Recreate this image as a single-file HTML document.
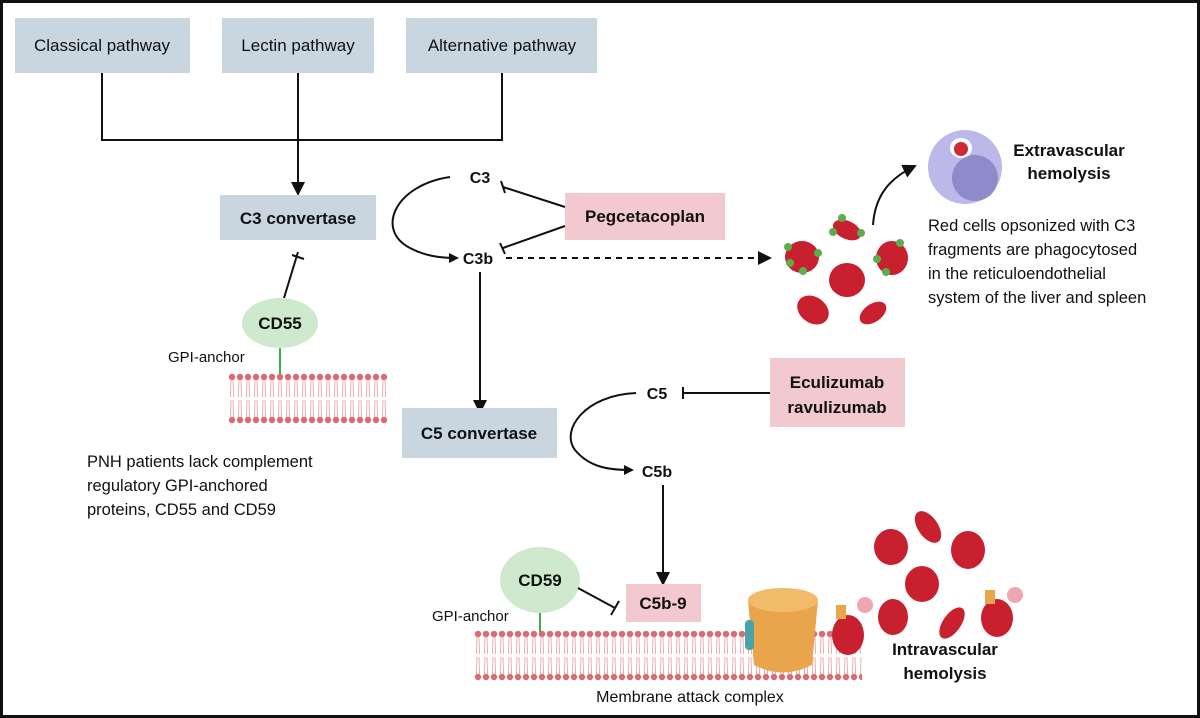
<!DOCTYPE html>
<html><head><meta charset="utf-8"><style>
html,body{margin:0;padding:0;background:#fff}
svg{display:block}
text{font-family:"Liberation Sans",sans-serif;fill:#111}
.b{font-weight:bold}
</style></head><body>
<svg width="1200" height="718" viewBox="0 0 1200 718" xmlns="http://www.w3.org/2000/svg">
<defs>
<marker id="ah" markerWidth="10" markerHeight="10" refX="8" refY="5" orient="auto" markerUnits="userSpaceOnUse"><path d="M0,0 L10,5 L0,10 Z" fill="#111"/></marker>
<marker id="ah2" markerWidth="14" markerHeight="14" refX="12" refY="7" orient="auto" markerUnits="userSpaceOnUse"><path d="M0,0 L14,7 L0,14 Z" fill="#111"/></marker>
<pattern id="mem" x="0" y="0" width="8" height="51" patternUnits="userSpaceOnUse">
<circle cx="4" cy="4" r="3.2" fill="#d96b74"/>
<circle cx="4" cy="47" r="3.2" fill="#d96b74"/>
<path d="M3,7 L2.5,24 M5,7 L5.5,24 M3,27 L2.5,44 M5,27 L5.5,44" stroke="#e79aa0" stroke-width="0.8" fill="none"/>
</pattern>
</defs>
<rect x="1.5" y="1.5" width="1197" height="715" fill="#fff" stroke="#111" stroke-width="3"/>

<rect x="15" y="18" width="175" height="55" fill="#c9d6e0"/>
<rect x="222" y="18" width="152" height="55" fill="#c9d6e0"/>
<rect x="406" y="18" width="191" height="55" fill="#c9d6e0"/>
<text x="102" y="51" font-size="17" text-anchor="middle">Classical pathway</text>
<text x="298" y="51" font-size="17" text-anchor="middle">Lectin pathway</text>
<text x="502" y="51" font-size="17" text-anchor="middle">Alternative pathway</text>
<path d="M102,73 V140 H502 V73 M298,73 V140" stroke="#111" stroke-width="2" fill="none"/>
<path d="M298,140 V194" stroke="#111" stroke-width="2" marker-end="url(#ah2)"/>

<rect x="220" y="195" width="156" height="45" fill="#c9d6e0"/>
<text x="298" y="224" font-size="17" class="b" text-anchor="middle">C3 convertase</text>
<path d="M284,298 L298,252 M292,255 L304,259" stroke="#111" stroke-width="2" fill="none"/>

<ellipse cx="280" cy="323" rx="38" ry="25" fill="#cfe9cf"/>
<text x="280" y="329" font-size="17" class="b" text-anchor="middle">CD55</text>
<text x="168" y="362" font-size="15">GPI-anchor</text>
<line x1="280" y1="348" x2="280" y2="376" stroke="#3bb04a" stroke-width="2"/>
<g transform="translate(228,373)"><rect x="0" y="0" width="160" height="51" fill="url(#mem)"/></g>
<text x="87" y="467" font-size="16.5">PNH patients lack complement</text>
<text x="87" y="491" font-size="16.5">regulatory GPI-anchored</text>
<text x="87" y="515" font-size="16.5">proteins, CD55 and CD59</text>

<text x="480" y="183" font-size="16" class="b" text-anchor="middle">C3</text>
<text x="478" y="264" font-size="16" class="b" text-anchor="middle">C3b</text>
<path d="M450,177 C395,185 375,230 410,248 C425,256 440,258 457,258" stroke="#111" stroke-width="2" fill="none" marker-end="url(#ah)"/>
<rect x="565" y="193" width="160" height="47" fill="#f2c9cf"/>
<text x="645" y="222" font-size="17" class="b" text-anchor="middle">Pegcetacoplan</text>
<path d="M565,207 L503,187 M501,181 L505,193 M565,226 L503,248 M500,243 L505,254" stroke="#111" stroke-width="2" fill="none"/>
<path d="M506,258 H770" stroke="#111" stroke-width="2" stroke-dasharray="6,5" fill="none" marker-end="url(#ah2)"/>
<path d="M480,272 V412" stroke="#111" stroke-width="2" marker-end="url(#ah2)"/>

<rect x="402" y="408" width="155" height="50" fill="#c9d6e0"/>
<text x="479" y="439" font-size="17" class="b" text-anchor="middle">C5 convertase</text>
<text x="657" y="399" font-size="16" class="b" text-anchor="middle">C5</text>
<text x="657" y="477" font-size="16" class="b" text-anchor="middle">C5b</text>
<path d="M636,393 C585,395 560,430 575,450 C590,468 610,470 632,470" stroke="#111" stroke-width="2" fill="none" marker-end="url(#ah)"/>
<rect x="770" y="358" width="135" height="69" fill="#f2c9cf"/>
<text x="837" y="388" font-size="17" class="b" text-anchor="middle">Eculizumab</text>
<text x="837" y="413" font-size="17" class="b" text-anchor="middle">ravulizumab</text>
<path d="M770,393 H683 M683,387 V399" stroke="#111" stroke-width="2" fill="none"/>
<path d="M663,485 V584" stroke="#111" stroke-width="2" marker-end="url(#ah2)"/>

<rect x="626" y="584" width="75" height="38" fill="#f2c9cf"/>
<text x="663" y="609" font-size="17" class="b" text-anchor="middle">C5b-9</text>
<ellipse cx="540" cy="580" rx="40" ry="33" fill="#cfe9cf"/>
<text x="540" y="586" font-size="17" class="b" text-anchor="middle">CD59</text>
<path d="M578,588 L615,608 M611,615 L619,601" stroke="#111" stroke-width="2" fill="none"/>
<text x="432" y="621" font-size="15">GPI-anchor</text>
<line x1="540" y1="613" x2="540" y2="633" stroke="#3bb04a" stroke-width="2"/>
<g transform="translate(474,630)"><rect x="0" y="0" width="388" height="51" fill="url(#mem)"/></g>
<text x="690" y="702" font-size="16" text-anchor="middle">Membrane attack complex</text>
<path d="M748,600 Q783,585 818,600 L812,665 Q783,680 754,665 Z" fill="#e9a54c"/>
<ellipse cx="783" cy="600" rx="35" ry="12" fill="#f1bb6a"/>
<rect x="745" y="620" width="9" height="30" rx="4" fill="#4aa3a6"/>

<path d="M873,225 C875,195 890,178 915,166" stroke="#111" stroke-width="2" fill="none" marker-end="url(#ah2)"/>
<circle cx="965" cy="167" r="37" fill="#bcb8ea"/>
<circle cx="975" cy="178" r="23" fill="#8f8bcb"/>
<ellipse cx="961" cy="148" rx="11" ry="10" fill="#fff"/>
<circle cx="961" cy="149" r="7" fill="#cc2a36"/>
<text x="1069" y="156" font-size="17" class="b" text-anchor="middle">Extravascular</text>
<text x="1069" y="179" font-size="17" class="b" text-anchor="middle">hemolysis</text>
<text x="928" y="231" font-size="16.5">Red cells opsonized with C3</text>
<text x="928" y="255" font-size="16.5">fragments are phagocytosed</text>
<text x="928" y="279" font-size="16.5">in the reticuloendothelial</text>
<text x="928" y="303" font-size="16.5">system of the liver and spleen</text>
<g fill="#c8202e">
<ellipse cx="802" cy="257" rx="17" ry="16"/>
<ellipse cx="847" cy="230" rx="15" ry="9" transform="rotate(25 847 230)"/>
<ellipse cx="892" cy="258" rx="16" ry="17"/>
<ellipse cx="847" cy="280" rx="18" ry="17"/>
<ellipse cx="813" cy="310" rx="17" ry="13" transform="rotate(35 813 310)"/>
<ellipse cx="873" cy="313" rx="15" ry="9" transform="rotate(-35 873 313)"/>
</g>
<g fill="#5aae4c">
<circle cx="788" cy="247" r="4"/><circle cx="818" cy="253" r="4"/><circle cx="790" cy="263" r="4"/><circle cx="803" cy="271" r="4"/>
<circle cx="842" cy="218" r="4"/><circle cx="833" cy="232" r="4"/><circle cx="861" cy="233" r="4"/>
<circle cx="900" cy="243" r="4"/><circle cx="877" cy="259" r="4"/><circle cx="886" cy="272" r="4"/>
</g>

<g fill="#c8202e">
<ellipse cx="928" cy="527" rx="18" ry="10" transform="rotate(55 928 527)"/>
<ellipse cx="891" cy="547" rx="17" ry="18"/>
<ellipse cx="968" cy="550" rx="17" ry="19"/>
<ellipse cx="922" cy="584" rx="17" ry="18"/>
<ellipse cx="893" cy="617" rx="15" ry="18"/>
<ellipse cx="952" cy="623" rx="18" ry="9" transform="rotate(-55 952 623)"/>
<ellipse cx="848" cy="635" rx="16" ry="20"/>
<ellipse cx="997" cy="618" rx="16" ry="19"/>
</g>
<circle cx="865" cy="605" r="8" fill="#f0a6b0"/><circle cx="1015" cy="595" r="8" fill="#f0a6b0"/>
<rect x="836" y="605" width="10" height="14" fill="#e9a54c"/><rect x="985" y="590" width="10" height="14" fill="#e9a54c"/>
<text x="945" y="655" font-size="17" class="b" text-anchor="middle">Intravascular</text>
<text x="945" y="679" font-size="17" class="b" text-anchor="middle">hemolysis</text>
</svg>
</body></html>
